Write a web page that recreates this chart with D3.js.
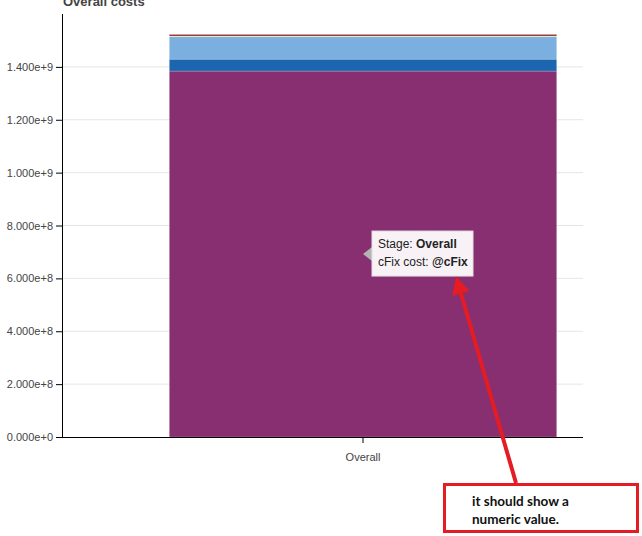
<!DOCTYPE html>
<html>
<head>
<meta charset="utf-8">
<script src="https://cdn.jsdelivr.net/npm/d3@7"></script>
<style>
  body { margin: 0; background: #fff; }
  svg { display: block; font-family: "Liberation Sans", Arial, sans-serif; }
</style>
</head>
<body>
<div id="chart"></div>
<script>
// data
var stages = ["Overall"];
var costKeys = ["cFix", "cVar", "cMaint", "cFuel", "cOther"];
var cFix = [1.384e9];
var cVar = [4.5e7];
var cMaint = [8.55e7];
var cFuel = [2.5e6];
var cOther = [5.5e6];
var colors = ["#882f71", "#1c66b0", "#7aafdf", "#ede08a", "#8b1c1c"];
var yTicks = [0, 2e8, 4e8, 6e8, 8e8, 1e9, 1.2e9, 1.4e9];

var rows = stages.map(function(s, i) {
    return {stage: s, cFix: cFix[i], cVar: cVar[i], cMaint: cMaint[i], cFuel: cFuel[i], cOther: cOther[i]};
});

var margin = {top: 14, right: 59, bottom: 99, left: 62},
    width = 642 - margin.left - margin.right,
    height = 536 - margin.top - margin.bottom;

var root = d3.select("#chart").append("svg")
    .attr("width", 642)
    .attr("height", 536);

var svg = root.append("g")
    .attr("transform", "translate(" + margin.left + "," + margin.top + ")");

// title, clipped at the top of the screenshot
root.append("text")
    .attr("x", 63)
    .attr("y", 6)
    .style("font-size", "13px")
    .style("font-weight", "bold")
    .style("fill", "#444")
    .text("Overall costs");

var y = d3.scaleLinear().domain([0, 1.6e9]).range([height, 0]);
// the factor range runs past the visible frame, so the bar sits right of centre
var x = d3.scaleBand().domain(stages).range([0, 602]).padding(0.217);

// grid
svg.append("g")
    .selectAll("line")
    .data(yTicks.slice(1))
    .join("line")
        .attr("x1", 0)
        .attr("x2", width)
        .attr("y1", function(d) { return y(d); })
        .attr("y2", function(d) { return y(d); })
        .style("stroke", "#e5e5e5");

// stacked bar
var stack = d3.stack().keys(costKeys)(rows);
var color = d3.scaleOrdinal().domain(costKeys).range(colors);

svg.append("g")
    .selectAll("g")
    .data(stack)
    .join("g")
        .style("fill", function(d) { return color(d.key); })
    .selectAll("rect")
    .data(function(d) { return d; })
    .join("rect")
        .attr("x", function(d) { return x(d.data.stage); })
        .attr("y", function(d) { return y(d[1]); })
        .attr("width", x.bandwidth())
        .attr("height", function(d) { return y(d[0]) - y(d[1]); })
        .style("stroke", "#ffffff")
        .style("stroke-opacity", 0.18)
        .style("stroke-width", 1);

// axes
var yAxis = svg.append("g")
    .call(d3.axisLeft(y).tickValues(yTicks).tickFormat(d3.format(".3e")).tickSize(6).tickSizeOuter(0).tickPadding(3));
yAxis.select(".domain").attr("d", "M0.5," + height + "V0");
yAxis.selectAll("text").style("font-size", "11px").style("fill", "#444")
    .style("font-family", "'Liberation Sans', Arial, sans-serif");

var xAxis = svg.append("g")
    .attr("transform", "translate(0," + height + ")")
    .call(d3.axisBottom(x).tickSize(6).tickSizeOuter(0).tickPadding(10));
xAxis.select(".domain").attr("d", "M0,0.5H" + width);
xAxis.selectAll("text").style("font-size", "11px").style("fill", "#444")
    .style("font-family", "'Liberation Sans', Arial, sans-serif");

// hover tooltip as it appears in the screenshot
var tip = svg.append("g")
    .attr("transform", "translate(" + (x("Overall") + x.bandwidth() / 2 + 9) + "," + (y(cFix[0] / 2) - 23) + ")");
tip.append("path")
    .attr("d", "M-9,23L0,16L0,30Z")
    .style("fill", "#b3b3b3");
tip.append("rect")
    .attr("width", 101)
    .attr("height", 45)
    .style("fill", "#ffffff")
    .style("fill-opacity", 0.94)
    .style("stroke", "#e0e0e0");
var t1 = tip.append("text").attr("x", 6).attr("y", 17).style("font-size", "12px").style("fill", "#222");
t1.append("tspan").text("Stage: ");
t1.append("tspan").style("font-weight", "bold").text("Overall");
var t2 = tip.append("text").attr("x", 6).attr("y", 35).style("font-size", "12px").style("fill", "#222");
t2.append("tspan").text("cFix cost: ");
t2.append("tspan").style("font-weight", "bold").text("@cFix");

// red annotation
var red = "#e51c23";
root.append("defs").append("marker")
    .attr("id", "head")
    .attr("viewBox", "0 0 10 10")
    .attr("refX", 2)
    .attr("refY", 5)
    .attr("markerWidth", 5)
    .attr("markerHeight", 4.5)
    .attr("orient", "auto")
    .append("path")
        .attr("d", "M0,0L10,5L0,10Z")
        .style("fill", red);

root.append("rect")
    .attr("x", 444.5)
    .attr("y", 484.5)
    .attr("width", 193)
    .attr("height", 47)
    .style("fill", "#fff")
    .style("stroke", red)
    .style("stroke-width", 3);

root.append("line")
    .attr("x1", 516)
    .attr("y1", 483)
    .attr("x2", 460)
    .attr("y2", 290)
    .style("stroke", red)
    .style("stroke-width", 4)
    .attr("marker-end", "url(#head)");

var note = root.append("text")
    .style("font-family", "Lato, 'Open Sans', sans-serif")
    .style("font-size", "13.5px")
    .style("font-weight", "bold")
    .style("fill", "#111");
note.append("tspan").attr("x", 472).attr("y", 506).text("it should show a");
note.append("tspan").attr("x", 472).attr("y", 524).text("numeric value.");
</script>
</body>
</html>
